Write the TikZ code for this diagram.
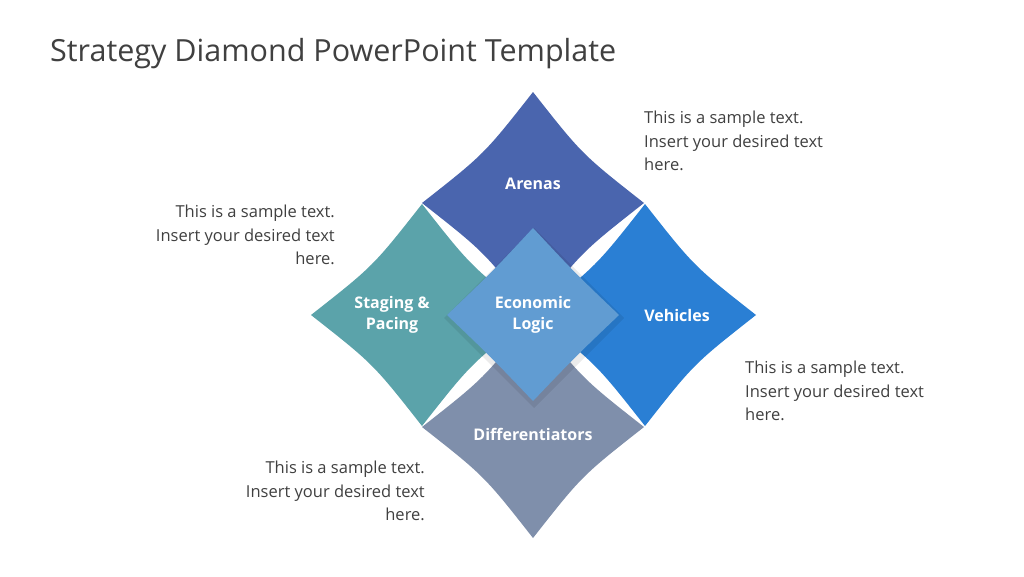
\documentclass[tikz,border=0pt]{standalone}
\usepackage{fontspec}
\setmainfont{Open Sans}
\usetikzlibrary{positioning}
\definecolor{arenas}{HTML}{4A65AE}
\definecolor{staging}{HTML}{5BA3AA}
\definecolor{vehicles}{HTML}{2A7FD4}
\definecolor{differ}{HTML}{7F8FAB}
\definecolor{econ}{HTML}{619CD2}
\definecolor{txt}{HTML}{404040}
\tikzset{
  lbl/.style={text=white,font=\bfseries\fontsize{16}{21}\selectfont,align=center},
  sample/.style={text=txt,font=\fontsize{16.5}{23.5}\selectfont,inner sep=0pt}
}
\newcommand\curvydiamond[4]{%
  \fill[#4,shift={(#1,#2)}] (0,-#3) .. controls (0.44*#3,-0.44*#3) .. (#3,0)
    .. controls (0.44*#3,0.44*#3) .. (0,#3)
    .. controls (-0.44*#3,0.44*#3) .. (-#3,0)
    .. controls (-0.44*#3,-0.44*#3) .. (0,-#3) -- cycle;}
\begin{document}
\begin{tikzpicture}[x=1pt,y=-1pt]
  \useasboundingbox (0,0) rectangle (1024,576);
  \fill[white] (0,0) rectangle (1024,576);

  \node[anchor=west,text=txt,font=\fontsize{30.5}{34}\selectfont,inner sep=0pt] (title) at (50,54) {Strategy Diamond PowerPoint Template};

  \curvydiamond{533}{203}{111}{arenas}
  \curvydiamond{645}{315}{111}{vehicles}
  \curvydiamond{533}{427}{111}{differ}
  \curvydiamond{422}{315}{111}{staging}
  % centre with soft shadow
  \fill[black,opacity=0.08,shift={(534,318)}] (0,-90) -- (90,0) -- (0,90) -- (-90,0) -- cycle;
  \fill[econ,shift={(533,315)}] (0,-87) .. controls (42,-42) .. (86,0)
    .. controls (42,42) .. (0,86) .. controls (-42,42) .. (-86,0)
    .. controls (-42,-42) .. (0,-87) -- cycle;

  \node[lbl] (arenas) at (533,184) {Arenas};
  \node[lbl] (vehicles) at (677,315) {Vehicles};
  \node[lbl] (differ) at (533,434) {Differentiators};
  \node[lbl] (staging) at (392,315) {Staging \&\\Pacing};
  \node[lbl] (econ) at (533,315) {Economic\\Logic};

  \node[sample,anchor=north west,align=left] (tr) at (644,111) {This is a sample text.\\Insert your desired text\\here.};
  \node[sample,anchor=north east,align=right] (tl) at (335,205) {This is a sample text.\\Insert your desired text\\here.};
  \node[sample,anchor=north west,align=left] (br) at (745,361) {This is a sample text.\\Insert your desired text\\here.};
  \node[sample,anchor=north east,align=right] (bl) at (425,461) {This is a sample text.\\Insert your desired text\\here.};
\end{tikzpicture}
\end{document}
